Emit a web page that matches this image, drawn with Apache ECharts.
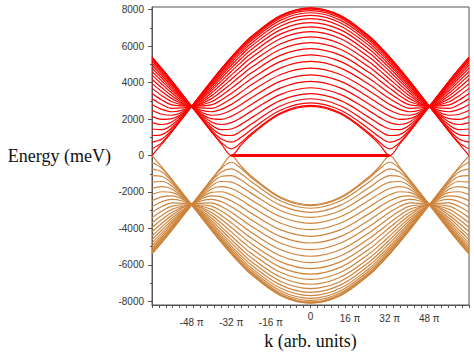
<!DOCTYPE html>
<html><head><meta charset="utf-8">
<script src="https://cdn.jsdelivr.net/npm/echarts@6/dist/echarts.min.js"></script>
<style>html,body{margin:0;padding:0;background:#fff}#c{width:474px;height:356px}</style>
</head><body><div id="c"></div>
<script>
// k in units of pi
const kValues = [-64,-60,-56,-48,-40,-36,-32,-28,-24,-12,0,12,24,28,32,36,40,48,56,60,64];

// conduction (upper, red) bands, meV
const upperBands = [
[0,634,1302,2700,4098,4766,5400,5987,6518,7689,8100,7689,6518,5987,5400,4766,4098,2700,1302,634,0],
[368,711,1329,2700,4089,4756,5387,5974,6504,7673,8083,7673,6504,5974,5387,4756,4089,2700,1329,711,368],
[735,903,1406,2700,4063,4723,5350,5932,6459,7624,8033,7624,6459,5932,5350,4723,4063,2700,1406,903,735],
[1099,1151,1523,2700,4021,4669,5287,5863,6386,7543,7950,7543,6386,5863,5287,4669,4021,2700,1523,1151,1099],
[1457,1423,1672,2700,3961,4593,5200,5767,6284,7430,7834,7430,6284,5767,5200,4593,3961,2700,1672,1423,1457],
[1808,1704,1841,2700,3886,4496,5088,5645,6153,7285,7686,7285,6153,5645,5088,4496,3886,2700,1841,1704,1808],
[2151,1986,2023,2700,3794,4379,4953,5497,5995,7111,7507,7111,5995,5497,4953,4379,3794,2700,2023,1986,2151],
[2484,2264,2212,2700,3687,4242,4795,5323,5810,6908,7298,6908,5810,5323,4795,4242,3687,2700,2212,2264,2484],
[2806,2535,2402,2700,3566,4086,4614,5125,5600,6676,7062,6676,5600,5125,4614,4086,3566,2700,2402,2535,2806],
[3114,2797,2592,2700,3431,3911,4412,4903,5364,6419,6798,6419,5364,4903,4412,3911,3431,2700,2592,2797,3114],
[3408,3048,2776,2700,3283,3719,4189,4659,5105,6137,6510,6137,5105,4659,4189,3719,3283,2700,2776,3048,3408],
[3686,3286,2954,2700,3124,3510,3947,4394,4825,5833,6200,5833,4825,4394,3947,3510,3124,2700,2954,3286,3686],
[3947,3510,3124,2700,2954,3286,3686,4109,4524,5508,5870,5508,4524,4109,3686,3286,2954,2700,3124,3510,3947],
[4189,3719,3283,2700,2776,3048,3408,3806,4204,5167,5524,5167,4204,3806,3408,3048,2776,2700,3283,3719,4189],
[4412,3911,3431,2700,2592,2797,3114,3486,3868,4812,5166,4812,3868,3486,3114,2797,2592,2700,3431,3911,4412],
[4614,4086,3566,2700,2402,2535,2806,3151,3519,4448,4799,4448,3519,3151,2806,2535,2402,2700,3566,4086,4614],
[4795,4242,3687,2700,2212,2264,2484,2803,3159,4080,4431,4080,3159,2803,2484,2264,2212,2700,3687,4242,4795],
[4953,4379,3794,2700,2023,1986,2151,2445,2792,3714,4068,3714,2792,2445,2151,1986,2023,2700,3794,4379,4953],
[5088,4496,3886,2700,1841,1704,1808,2080,2424,3359,3719,3359,2424,2080,1808,1704,1841,2700,3886,4496,5088],
[5200,4593,3961,2700,1672,1423,1457,1711,2062,3027,3396,3027,2062,1711,1457,1423,1672,2700,3961,4593,5200],
[5287,4669,4021,2700,1523,1151,1099,1347,1720,2733,3115,2733,1720,1347,1099,1151,1523,2700,4021,4669,5287],
[5350,4723,4063,2700,1406,903,735,1002,1420,2498,2893,2498,1420,1002,735,903,1406,2700,4063,4723,5350],
[5387,4756,4089,2700,1329,711,368,714,1201,2343,2750,2343,1201,714,368,711,1329,2700,4089,4756,5387],
[5400,4766,4098,2700,1302,634,0,587,1118,2289,2700,2289,1118,587,0,634,1302,2700,4098,4766,5400]
];

// valence (lower, orange) bands, meV
const lowerBands = [
[0,-634,-1302,-2700,-4098,-4766,-5400,-5987,-6518,-7689,-8100,-7689,-6518,-5987,-5400,-4766,-4098,-2700,-1302,-634,0],
[-368,-711,-1329,-2700,-4089,-4756,-5387,-5974,-6504,-7673,-8083,-7673,-6504,-5974,-5387,-4756,-4089,-2700,-1329,-711,-368],
[-735,-903,-1406,-2700,-4063,-4723,-5350,-5932,-6459,-7624,-8033,-7624,-6459,-5932,-5350,-4723,-4063,-2700,-1406,-903,-735],
[-1099,-1151,-1523,-2700,-4021,-4669,-5287,-5863,-6386,-7543,-7950,-7543,-6386,-5863,-5287,-4669,-4021,-2700,-1523,-1151,-1099],
[-1457,-1423,-1672,-2700,-3961,-4593,-5200,-5767,-6284,-7430,-7834,-7430,-6284,-5767,-5200,-4593,-3961,-2700,-1672,-1423,-1457],
[-1808,-1704,-1841,-2700,-3886,-4496,-5088,-5645,-6153,-7285,-7686,-7285,-6153,-5645,-5088,-4496,-3886,-2700,-1841,-1704,-1808],
[-2151,-1986,-2023,-2700,-3794,-4379,-4953,-5497,-5995,-7111,-7507,-7111,-5995,-5497,-4953,-4379,-3794,-2700,-2023,-1986,-2151],
[-2484,-2264,-2212,-2700,-3687,-4242,-4795,-5323,-5810,-6908,-7298,-6908,-5810,-5323,-4795,-4242,-3687,-2700,-2212,-2264,-2484],
[-2806,-2535,-2402,-2700,-3566,-4086,-4614,-5125,-5600,-6676,-7062,-6676,-5600,-5125,-4614,-4086,-3566,-2700,-2402,-2535,-2806],
[-3114,-2797,-2592,-2700,-3431,-3911,-4412,-4903,-5364,-6419,-6798,-6419,-5364,-4903,-4412,-3911,-3431,-2700,-2592,-2797,-3114],
[-3408,-3048,-2776,-2700,-3283,-3719,-4189,-4659,-5105,-6137,-6510,-6137,-5105,-4659,-4189,-3719,-3283,-2700,-2776,-3048,-3408],
[-3686,-3286,-2954,-2700,-3124,-3510,-3947,-4394,-4825,-5833,-6200,-5833,-4825,-4394,-3947,-3510,-3124,-2700,-2954,-3286,-3686],
[-3947,-3510,-3124,-2700,-2954,-3286,-3686,-4109,-4524,-5508,-5870,-5508,-4524,-4109,-3686,-3286,-2954,-2700,-3124,-3510,-3947],
[-4189,-3719,-3283,-2700,-2776,-3048,-3408,-3806,-4204,-5167,-5524,-5167,-4204,-3806,-3408,-3048,-2776,-2700,-3283,-3719,-4189],
[-4412,-3911,-3431,-2700,-2592,-2797,-3114,-3486,-3868,-4812,-5166,-4812,-3868,-3486,-3114,-2797,-2592,-2700,-3431,-3911,-4412],
[-4614,-4086,-3566,-2700,-2402,-2535,-2806,-3151,-3519,-4448,-4799,-4448,-3519,-3151,-2806,-2535,-2402,-2700,-3566,-4086,-4614],
[-4795,-4242,-3687,-2700,-2212,-2264,-2484,-2803,-3159,-4080,-4431,-4080,-3159,-2803,-2484,-2264,-2212,-2700,-3687,-4242,-4795],
[-4953,-4379,-3794,-2700,-2023,-1986,-2151,-2445,-2792,-3714,-4068,-3714,-2792,-2445,-2151,-1986,-2023,-2700,-3794,-4379,-4953],
[-5088,-4496,-3886,-2700,-1841,-1704,-1808,-2080,-2424,-3359,-3719,-3359,-2424,-2080,-1808,-1704,-1841,-2700,-3886,-4496,-5088],
[-5200,-4593,-3961,-2700,-1672,-1423,-1457,-1711,-2062,-3027,-3396,-3027,-2062,-1711,-1457,-1423,-1672,-2700,-3961,-4593,-5200],
[-5287,-4669,-4021,-2700,-1523,-1151,-1099,-1347,-1720,-2733,-3115,-2733,-1720,-1347,-1099,-1151,-1523,-2700,-4021,-4669,-5287],
[-5350,-4723,-4063,-2700,-1406,-903,-735,-1002,-1420,-2498,-2893,-2498,-1420,-1002,-735,-903,-1406,-2700,-4063,-4723,-5350],
[-5387,-4756,-4089,-2700,-1329,-711,-368,-714,-1201,-2343,-2750,-2343,-1201,-714,-368,-711,-1329,-2700,-4089,-4756,-5387],
[-5400,-4766,-4098,-2700,-1302,-634,0,-587,-1118,-2289,-2700,-2289,-1118,-587,0,-634,-1302,-2700,-4098,-4766,-5400]
];

// zero-energy edge band
const flatBandK = [-32, 32];
const flatBandE = [0, 0];

const xTickLabels = [-48, -32, -16, 0, 16, 32, 48];
const yTickLabels = [-8000, -6000, -4000, -2000, 0, 2000, 4000, 6000, 8000];
const yMinorTicks = [-7000, -5000, -3000, -1000, 1000, 3000, 5000, 7000];

const xMinorTicks = [];
for (let i = -23; i <= 23; i++) xMinorTicks.push(i * 64 / 23);

const RED = '#ff0000';
const ORANGE = '#cd843c';
const AXIS = '#555555';
const LBL = '#333333';

const series = [];
lowerBands.forEach(b => series.push({
  type: 'line', data: kValues.map((k, i) => [k, b[i]]), showSymbol: false, smooth: 0.35,
  silent: true, lineStyle: { color: ORANGE, width: 1.2 }
}));
upperBands.forEach(b => series.push({
  type: 'line', data: kValues.map((k, i) => [k, b[i]]), showSymbol: false, smooth: 0.35,
  silent: true, lineStyle: { color: RED, width: 1.2 }
}));
series.push({
  type: 'line', data: flatBandK.map((k, i) => [k, flatBandE[i]]), showSymbol: false,
  silent: true, lineStyle: { color: RED, width: 3 }
});

const chart = echarts.init(document.getElementById('c'), null, { renderer: 'svg' });
chart.setOption({
  animation: false,
  backgroundColor: '#ffffff',
  grid: { left: 152, right: 5, top: 7, bottom: 51, show: true, borderColor: AXIS, borderWidth: 1 },
  xAxis: {
    type: 'value', min: -64, max: 64,
    axisLine: { show: true, onZero: false, lineStyle: { color: AXIS } },
    axisTick: { show: true, customValues: xMinorTicks, length: 3, lineStyle: { color: AXIS } },
    splitLine: { show: false },
    axisLabel: {
      customValues: xTickLabels, margin: 6, color: LBL, fontSize: 10, fontFamily: 'Liberation Sans',
      formatter: v => v === 0 ? '{z|0}' : (v < 0 ? '{n|' + v + ' π}' : '{p|' + v + ' π}'),
      rich: {
        z: { padding: [0, 0, 0, 0], color: LBL, fontSize: 10, fontFamily: 'Liberation Sans' },
        p: { padding: [2, 0, 0, 0], color: LBL, fontSize: 10, fontFamily: 'Liberation Sans' },
        n: { padding: [6, 0, 0, 0], color: LBL, fontSize: 10, fontFamily: 'Liberation Sans' }
      }
    },
    name: 'k (arb. units)', nameLocation: 'middle', nameGap: 26,
    nameTextStyle: { fontFamily: 'Liberation Serif', fontSize: 18, color: '#111' }
  },
  yAxis: [{
    type: 'value', min: -8200, max: 8150,
    axisLine: { show: true, onZero: false, lineStyle: { color: AXIS } },
    axisTick: { show: true, customValues: yTickLabels, length: 4, lineStyle: { color: AXIS } },
    splitLine: { show: false },
    axisLabel: { customValues: yTickLabels, margin: 8, color: LBL, fontSize: 10, fontFamily: 'Liberation Sans',
      formatter: v => String(v) },
    name: 'Energy (meV)', nameLocation: 'middle', nameRotate: 0, nameGap: 41,
    nameTextStyle: { fontFamily: 'Liberation Serif', fontSize: 18, color: '#111' }
  }, {
    type: 'value', min: -8200, max: 8150, position: 'left', offset: 0,
    axisLine: { show: false, onZero: false },
    axisTick: { show: true, customValues: yMinorTicks, length: 2, lineStyle: { color: AXIS } },
    axisLabel: { show: false },
    splitLine: { show: false }
  }],
  series: series
});
</script>
</body></html>
